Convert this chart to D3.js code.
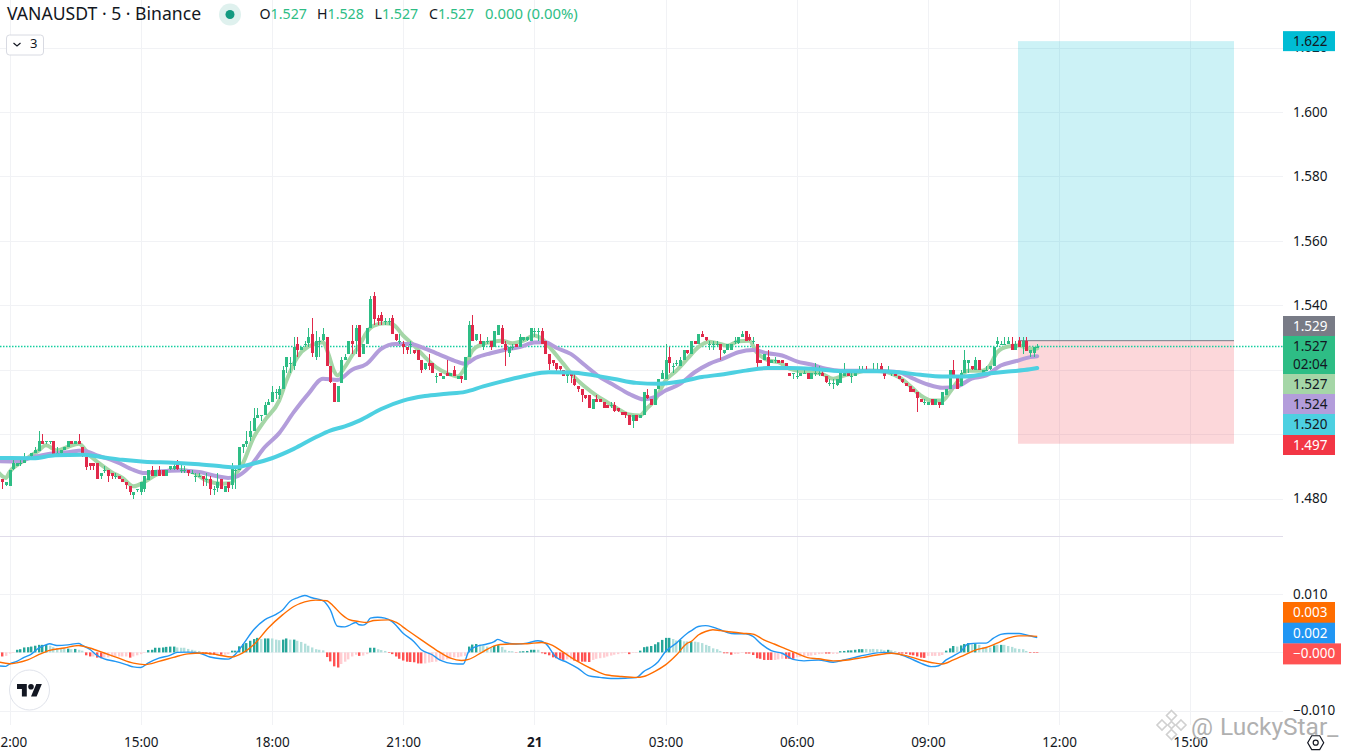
<!DOCTYPE html>
<html>
<head>
<meta charset="utf-8">
<script src="https://cdn.jsdelivr.net/npm/d3@7"></script>
<style>
  html, body { margin: 0; padding: 0; background: #fff; overflow: hidden; }
  text { font-family: "Noto Sans", sans-serif; }
</style>
</head>
<body>
<div id="chart-container"></div>
<script>
// Bars are 5 minutes, index 0 = 12:00 of the 20th. First bar in the picture is -2.
const firstBar = -2;

// Prices in 0.001 steps, ten bars per row
const opens = [
  1486,1484,1484,1489,1490,1491,1491,1493,1493,1494,
  1495,1498,1498,1498,1498,1493,1494,1495,1496,1498,
  1497,1498,1496,1493,1491,1491,1491,1487,1489,1489,
  1488,1487,1487,1486,1485,1484,1481,1483,1482,1483,
  1486,1489,1487,1489,1489,1487,1489,1489,1491,1489,
  1489,1489,1488,1487,1487,1487,1486,1486,1483,1483,
  1486,1482,1485,1484,1489,1489,1496,1497,1499,1501,
  1505,1506,1506,1509,1510,1513,1512,1514,1521,1522,
  1521,1528,1526,1528,1528,1531,1524,1529,1529,1530,
  1521,1516,1510,1516,1523,1525,1529,1529,1534,1525,
  1528,1533,1543,1536,1537,1535,1535,1536,1531,1529,
  1528,1527,1528,1526,1526,1523,1520,1522,1522,1518,
  1519,1517,1519,1518,1520,1517,1518,1517,1524,1534,
  1529,1529,1527,1529,1529,1527,1531,1533,1528,1525,
  1527,1528,1527,1529,1529,1529,1532,1532,1532,1529,
  1525,1523,1522,1521,1520,1518,1519,1517,1515,1514,
  1512,1512,1508,1511,1511,1510,1509,1509,1509,1508,
  1507,1507,1506,1504,1506,1505,1506,1512,1511,1509,
  1514,1517,1517,1524,1521,1522,1521,1523,1526,1525,
  1529,1528,1531,1530,1528,1528,1528,1528,1525,1526,
  1526,1529,1528,1530,1532,1530,1529,1528,1523,1523,
  1524,1522,1523,1523,1523,1522,1519,1519,1518,1518,
  1519,1519,1517,1519,1519,1519,1518,1516,1516,1515,
  1516,1518,1519,1518,1518,1519,1520,1520,1519,1520,
  1520,1521,1519,1519,1519,1519,1518,1517,1516,1515,
  1514,1513,1511,1510,1509,1511,1509,1510,1509,1512,
  1514,1520,1518,1515,1519,1522,1521,1520,1523,1519,
  1520,1520,1521,1528,1528,1528,1528,1528,1526,1529,
  1527,1529,1525,1525,1527
];
const closes = [
  1485,1485,1489,1491,1491,1491,1493,1493,1494,1495,
  1498,1497,1498,1498,1494,1494,1495,1496,1498,1497,
  1498,1497,1494,1490,1490,1490,1486,1488,1489,1487,
  1487,1487,1486,1485,1484,1482,1482,1483,1485,1487,
  1489,1487,1489,1487,1487,1489,1490,1490,1489,1489,
  1489,1488,1488,1487,1487,1486,1486,1483,1483,1485,
  1483,1484,1483,1490,1489,1496,1497,1498,1501,1505,
  1506,1506,1509,1510,1513,1513,1514,1520,1524,1522,
  1527,1526,1527,1528,1530,1525,1529,1529,1531,1521,
  1516,1510,1515,1523,1524,1529,1528,1533,1524,1528,
  1533,1542,1536,1535,1535,1535,1535,1531,1529,1529,
  1527,1526,1528,1525,1523,1520,1522,1521,1519,1518,
  1518,1518,1518,1519,1518,1518,1517,1524,1534,1529,
  1531,1528,1529,1529,1527,1532,1534,1528,1526,1527,
  1527,1527,1530,1530,1530,1533,1532,1532,1528,1525,
  1522,1522,1520,1520,1518,1519,1518,1515,1514,1512,
  1511,1508,1511,1510,1510,1508,1508,1509,1507,1507,
  1506,1506,1503,1506,1504,1506,1513,1511,1509,1514,
  1517,1519,1523,1522,1521,1522,1523,1526,1525,1529,
  1528,1531,1530,1529,1528,1528,1528,1526,1526,1528,
  1528,1529,1530,1531,1529,1529,1529,1522,1522,1525,
  1521,1523,1523,1522,1522,1520,1518,1519,1518,1519,
  1519,1517,1519,1519,1519,1518,1516,1516,1516,1517,
  1519,1519,1518,1518,1519,1520,1520,1519,1520,1520,
  1520,1519,1518,1520,1519,1518,1517,1516,1515,1513,
  1513,1511,1510,1510,1510,1509,1511,1509,1513,1514,
  1520,1518,1514,1519,1523,1523,1520,1523,1520,1520,
  1520,1521,1527,1529,1528,1528,1529,1526,1528,1527,
  1529,1526,1526,1527,1527
];
const highs = [
  1486,1485,1489,1492,1491,1492,1494,1493,1494,1496,
  1501,1500,1498,1498,1498,1496,1495,1496,1498,1498,
  1498,1500,1496,1493,1491,1491,1491,1488,1490,1489,
  1488,1488,1487,1486,1485,1484,1482,1483,1485,1487,
  1489,1490,1489,1490,1489,1489,1490,1491,1492,1491,
  1490,1489,1489,1488,1488,1487,1488,1487,1484,1488,
  1486,1484,1485,1491,1490,1496,1497,1501,1504,1508,
  1508,1506,1510,1511,1515,1514,1515,1521,1524,1524,
  1530,1530,1527,1529,1533,1536,1532,1530,1533,1530,
  1521,1516,1515,1524,1525,1529,1534,1534,1534,1528,
  1533,1543,1544,1537,1538,1536,1536,1537,1531,1531,
  1529,1527,1529,1526,1526,1523,1522,1525,1522,1519,
  1519,1518,1523,1519,1521,1518,1518,1524,1535,1537,
  1531,1531,1529,1530,1529,1532,1534,1534,1529,1527,
  1528,1528,1531,1530,1530,1533,1533,1533,1533,1529,
  1525,1523,1522,1521,1520,1519,1519,1519,1515,1514,
  1512,1512,1511,1512,1511,1510,1509,1510,1510,1508,
  1507,1507,1506,1506,1506,1506,1513,1514,1511,1514,
  1517,1520,1528,1527,1522,1523,1524,1526,1526,1529,
  1529,1531,1532,1530,1529,1529,1529,1528,1526,1528,
  1528,1530,1530,1532,1532,1531,1530,1528,1523,1525,
  1526,1523,1524,1523,1523,1522,1519,1519,1520,1519,
  1520,1519,1519,1522,1521,1520,1518,1517,1517,1517,
  1519,1522,1519,1519,1519,1521,1521,1521,1520,1522,
  1522,1522,1519,1521,1520,1519,1518,1517,1516,1515,
  1514,1513,1511,1511,1510,1511,1511,1510,1513,1514,
  1520,1523,1518,1520,1526,1523,1521,1524,1523,1520,
  1521,1521,1527,1530,1529,1530,1530,1530,1529,1530,
  1530,1530,1526,1527,1528
];
const lows = [
  1483,1484,1484,1489,1490,1490,1491,1492,1493,1494,
  1495,1497,1497,1497,1493,1493,1493,1495,1496,1497,
  1497,1497,1493,1489,1489,1489,1486,1486,1488,1485,
  1486,1486,1486,1485,1483,1481,1480,1482,1481,1482,
  1486,1487,1487,1487,1487,1487,1489,1489,1489,1488,
  1488,1487,1488,1485,1487,1484,1484,1481,1481,1482,
  1483,1482,1482,1483,1483,1489,1494,1496,1498,1501,
  1505,1504,1506,1509,1510,1511,1511,1514,1519,1519,
  1520,1524,1526,1527,1527,1524,1523,1524,1529,1521,
  1516,1510,1510,1516,1523,1525,1525,1525,1524,1525,
  1528,1533,1534,1534,1534,1534,1534,1531,1529,1528,
  1525,1525,1525,1525,1523,1519,1520,1520,1519,1516,
  1518,1517,1518,1518,1518,1517,1516,1517,1524,1529,
  1529,1528,1526,1528,1526,1527,1531,1528,1521,1524,
  1526,1527,1527,1529,1529,1529,1530,1529,1528,1525,
  1520,1521,1519,1519,1518,1516,1516,1515,1513,1510,
  1511,1508,1508,1510,1510,1508,1508,1508,1507,1507,
  1506,1505,1503,1502,1504,1505,1506,1511,1509,1509,
  1514,1517,1517,1519,1519,1521,1521,1523,1525,1525,
  1528,1528,1530,1529,1526,1526,1527,1523,1525,1526,
  1526,1528,1528,1530,1529,1529,1528,1520,1522,1523,
  1521,1522,1522,1522,1522,1520,1518,1517,1517,1518,
  1519,1517,1517,1518,1518,1518,1516,1515,1514,1515,
  1516,1518,1518,1516,1518,1519,1519,1519,1519,1519,
  1519,1519,1517,1519,1518,1518,1517,1516,1515,1513,
  1513,1507,1510,1509,1509,1509,1509,1508,1509,1512,
  1514,1518,1514,1515,1519,1519,1520,1520,1520,1519,
  1520,1520,1521,1527,1528,1528,1528,1526,1526,1527,
  1525,1526,1524,1524,1527
];

// Moving averages, [bar, price]
const maFast = [[-3,1488],[-1,1486.4],[0,1488.2],[4,1491.8],[8,1494.9],[10,1496.5],[13,1494.9],[16,1496],[19,1497],[22,1493.4],[25,1490.6],[28,1488.2],[31,1486.4],[34,1483.8],[37,1485.1],[40,1487.2],[43,1488.5],[46,1488.9],[50,1488.3],[54,1485.6],[58,1484.6],[61,1484.8],[62,1487.2],[64,1490.8],[67,1499],[70,1504.2],[74,1510.4],[76,1516.6],[79,1523.9],[82,1527.2],[84,1528],[86,1528.5],[87.5,1524.9],[89,1519.7],[90,1518.2],[92,1520.8],[94,1524.4],[96,1527.5],[98,1531.6],[100,1533.7],[103,1534.4],[105,1534.2],[108,1530.6],[111,1527.5],[114,1523.9],[117,1520.8],[120,1518.9],[123,1517.9],[125,1520.6],[127,1525.9],[130,1528],[132,1528.5],[135,1529],[138,1528.2],[141,1529],[144,1530.6],[146,1529.6],[149,1525.9],[152,1521.8],[155,1517.7],[158,1514.6],[161,1512],[164,1509.9],[167,1507.8],[170,1506.1],[173,1505.8],[175,1508.1],[177,1510.4],[180,1516.6],[183,1519.7],[186,1523.4],[189,1527],[192,1528.7],[195,1528],[197,1527.4],[200,1528.8],[203,1529],[205,1525.4],[208,1523],[211,1522.3],[214,1520.3],[217,1519.5],[220,1519.2],[223,1518.7],[226,1517.2],[229,1518.2],[232,1518.9],[235,1519.7],[238,1519.7],[241,1519.2],[244,1517.7],[247,1515.1],[250,1512],[253,1510.4],[256,1510.4],[258,1513],[260,1516.1],[263,1519.7],[267,1519.7],[269,1521.3],[271,1525.4],[274,1527.2],[277,1527.5],[280,1526.5],[282,1526.6]];
const maMid = [[-3,1491.6],[2,1491.5],[6.5,1492.9],[10,1493.7],[16,1494.4],[20,1494.9],[24,1493.4],[29.5,1491.3],[34,1488.9],[37,1487.9],[41,1488.4],[47,1488.7],[52,1488.2],[57,1486.9],[60,1486.4],[62,1486.7],[66,1490],[70,1495.9],[74,1500.3],[78,1506.8],[82,1512.5],[86,1517.2],[90,1516.8],[94,1520],[98,1521.8],[102,1526.5],[106,1528],[110,1528],[114,1526.5],[118,1524.7],[122,1522.8],[125,1521.8],[128,1523.7],[132,1525.1],[136,1526.2],[140,1527],[144,1528.4],[147,1528.5],[150,1526.8],[154,1524.9],[158,1521.3],[162,1517.7],[166,1515.1],[170,1512.5],[174,1510.8],[177,1511.5],[180,1513.5],[184,1515.6],[188,1519.2],[192,1521.8],[196,1523.5],[200,1525.4],[204,1526.1],[208,1525.1],[212,1524.4],[216,1522.6],[220,1521.6],[224,1520.3],[228,1519.7],[232,1519.7],[236,1519.7],[240,1519.5],[244,1519.2],[248,1517.2],[252,1515.4],[256,1514.4],[260,1514.8],[264,1517.2],[268,1518.2],[272,1521.3],[276,1522.6],[280,1523.9],[282,1524.2]];
const maSlow = [[-3,1492.6],[6.5,1492.5],[12.5,1493.4],[20,1493.6],[25,1492.9],[31,1492],[37,1491.4],[45,1491.1],[52,1490.6],[58,1490],[62,1489.7],[66,1490.6],[72,1492.5],[78,1495.4],[84,1499],[88,1501.1],[92,1502.4],[96,1504.2],[102,1507.8],[108,1510.4],[114,1511.8],[120,1512.5],[125,1513.1],[130,1514.8],[136,1516.6],[142,1518.2],[148,1519.2],[154,1519.1],[160,1518.3],[166,1517.1],[172,1515.9],[178,1515.6],[184,1516.3],[190,1517.7],[196,1518.6],[202,1519.7],[208,1520.5],[214,1520.5],[220,1520.3],[226,1519.7],[232,1519.5],[238,1519.5],[244,1519.2],[250,1518.4],[256,1517.9],[262,1517.9],[268,1518.7],[274,1519.4],[280,1520.1],[282,1520.5]];

// MACD pane, in 0.001 units
const macdHist = [
  -.7,-.6,-.2,-.1,.45,.55,.85,.9,1,1.15,
  1.3,1.3,1.3,1.15,.9,.75,.75,.75,.65,.55,
  .6,.45,.3,-.5,-.7,-.7,-.9,-1,-.9,-.85,
  -.7,-.7,-.7,-.7,-.7,-.9,-.7,-.5,-.3,-.1,
  .4,.45,.8,.8,.85,.95,1,1,.85,.8,
  .8,.6,.45,.3,.25,-.2,-.3,-.35,-.4,-.5,
  -.4,-.4,-.3,.3,.3,1.05,1.45,1.6,2,2.3,
  2.5,2.3,2.4,2.4,2.4,2.2,2.1,2.2,2.4,2.2,
  2.2,2,1.8,1.5,1.15,.85,.55,.45,.35,-.8,
  -1.55,-2.4,-2.6,-2,-1.6,-1.2,-.7,-.4,-.6,-.55,
  -.3,.8,.8,.55,.4,.25,-.1,-.3,-.7,-1.1,
  -1.4,-1.6,-1.65,-1.7,-1.9,-1.9,-1.9,-1.75,-1.65,-1.6,
  -1.45,-1.3,-1.2,-1,-.85,-.85,-.7,-.6,1,1.35,
  1.45,1.35,1.25,1,.85,1.1,1.25,.95,.45,.25,
  .2,-.05,.15,.2,.25,.45,.45,.45,-.15,-.3,
  -.5,-.85,-1,-1.1,-1.3,-1.2,-1.2,-1.4,-1.6,-1.6,
  -1.6,-1.65,-1.3,-1.1,-1,-.9,-.7,-.55,-.4,-.3,
  -.15,-.1,-.3,-.1,-.1,.3,.9,1,1.1,1.4,
  1.75,2.15,2.5,2.5,2.3,2.05,2.15,1.9,1.9,1.85,
  1.85,1.75,1.6,1.3,1.1,.7,.55,.25,-.15,-.15,
  -.4,-.25,-.25,-.1,-.2,-.2,-.45,-1,-1.1,-1.3,
  -1.3,-1.3,-1.3,-1.2,-1.1,-1.1,-1.1,-1.1,-.85,-.75,
  -.7,-.65,-.55,-.45,-.3,-.25,-.2,-.2,-.25,-.25,
  .2,.25,.35,.35,.45,.55,.55,.6,.55,.6,
  .55,.5,.35,.45,.35,.2,-.15,-.2,-.25,-.4,
  -.5,-.7,-.9,-.95,-.6,-.6,-.6,-.6,-.45,.3,
  .7,1.1,1,1.2,1.45,1.6,1.4,1.5,1.3,.85,
  .85,.85,1.2,1.3,1.3,1.3,1.1,.95,.7,.6,
  .55,.25,-.1,-.1,-.1
];
// 1 = solid colour (histogram growing), 0 = faded
const histGrowing = [
  1,0,0,0,1,1,1,1,1,1,
  1,1,1,0,0,0,0,0,1,0,
  1,0,0,1,1,0,1,1,0,0,
  0,0,0,0,0,1,0,0,0,0,
  1,1,1,1,1,1,1,1,0,0,
  0,0,0,0,0,1,1,1,1,0,
  1,0,0,1,1,1,1,1,1,1,
  1,0,1,1,0,0,0,1,1,0,
  1,0,0,0,0,0,0,0,0,1,
  1,1,1,0,0,0,0,0,1,0,
  0,1,1,0,0,0,1,1,1,1,
  1,1,1,1,1,1,0,0,0,0,
  0,0,0,0,0,0,0,0,1,1,
  1,0,0,0,0,1,1,0,0,0,
  0,1,1,1,1,1,1,0,1,1,
  1,1,1,1,1,0,0,1,1,1,
  1,1,0,0,0,0,0,0,0,0,
  0,0,1,0,0,1,1,1,1,1,
  1,1,1,1,0,0,1,0,0,1,
  0,0,0,0,0,0,0,0,1,1,
  1,0,0,0,1,1,1,1,1,1,
  1,1,0,0,0,1,1,1,0,0,
  0,0,0,0,0,0,1,1,0,0,
  1,1,1,1,1,1,1,0,0,0,
  0,0,0,1,0,0,1,1,1,1,
  1,1,1,1,0,0,0,0,0,1,
  1,1,0,1,1,1,0,1,0,0,
  0,0,1,0,1,0,0,0,0,0,
  0,0,1,1,1
];
const macdLine = [[-3,-2.3],[-1,-2.4],[0,-2],[2,-1.55],[4,-.85],[6,-.3],[8,.75],[10,1.3],[11,1.5],[13,1.2],[16,1.3],[19,1.55],[20,1.2],[22,.55],[24,-.5],[26,-1.1],[29,-1.55],[32,-2.1],[34,-2.5],[36,-2.6],[38,-1.85],[41,-1],[44,-.5],[46,0],[49,.05],[52,-.1],[55,-.8],[58,-1.1],[60,-1.15],[62,-.3],[64,1.3],[67,3.9],[70,5.6],[73,6.5],[75,7.35],[77,8.8],[79,9.4],[81,9.8],[83,9.4],[86,8.9],[88,7.35],[90,4.5],[92,4.4],[93,4.6],[95,5.15],[96,4.75],[97,4.7],[98,5],[99,5.9],[101,6.05],[103,5.9],[105,5.3],[108,3.3],[111,1.85],[113,.45],[116,-.4],[118,-1.3],[120,-1.75],[123,-2],[124.5,-2],[126,.15],[128,1],[131,1.45],[133,1.85],[134,2.25],[136,1.7],[139,1.45],[142,1.6],[145,2],[147,1.6],[150,-.85],[153,-1.7],[156,-2.75],[159,-4.05],[162,-4.3],[165,-4.5],[169,-4.45],[172,-4.35],[174,-3.3],[176,-2.6],[178,-1.6],[180,.15],[183,1.6],[186,3.3],[187,3.7],[189,4.45],[191,4.6],[193,4.35],[195,3.9],[197,3.4],[199,3.2],[202,3.2],[204,2.75],[206,1.6],[209,.3],[212,-.15],[215,-1.2],[218,-1.45],[222,-1.3],[226,-1.7],[229,-1.3],[232,-.85],[236,-.3],[240,0],[244,-.3],[247,-1],[250,-1.85],[253,-2.45],[255,-2.3],[257,-1.3],[259,-.6],[261,.15],[263,1.45],[266,1.6],[268,1.6],[270,2.45],[272,3.1],[274,3.25],[277,3.25],[279,3],[282,2.55]];
const signalLine = [[-3,-1.65],[0,-1.95],[2,-1.8],[5,-1.3],[8,-.4],[11,.35],[15,.75],[19,1.2],[22,.75],[26,-.1],[30,-1],[34,-1.85],[37,-2.1],[41,-1.55],[45,-.85],[49,-.25],[53,-.1],[57,-.4],[61,-.8],[64,-.1],[67,1.3],[71,4.2],[75,6.5],[78,7.9],[81,8.7],[84,9],[87,8.9],[89,7.9],[91,6.6],[93,5.7],[96,5.3],[98,5.15],[100,5.5],[104,5.6],[106,5.2],[109,3.9],[113,2.15],[117,.45],[121,-1],[124,-1.4],[126,-1.2],[130,.15],[134,1.3],[138,1.45],[142,1.5],[146,1.7],[149,1.2],[152,0],[156,-1.6],[160,-2.9],[164,-3.9],[168,-4.15],[172,-4.3],[174,-4.15],[177,-3.3],[180,-2.15],[183,-.45],[186,1.6],[187,1.85],[189,3],[191,3.6],[193,3.9],[195,3.75],[198,3.5],[201,3.3],[204,3.15],[207,2.15],[210,1.4],[213,.6],[216,-.15],[219,-.9],[222,-1.1],[226,-1.45],[230,-1.3],[234,-.9],[238,-.45],[242,-.15],[246,-.55],[250,-1.3],[254,-1.85],[256,-2],[259,-1.3],[262,-.45],[265,.4],[268,.85],[271,1.6],[274,2.45],[277,2.85],[280,2.85],[282,2.75]];

// Axes
const priceTicks = [1620, 1600, 1580, 1560, 1540, 1520, 1500, 1480];
const priceLabelled = [1620, 1600, 1580, 1560, 1540, 1480];
const macdTicks = [10, 0, -10];
const macdLabelled = [10, -10];
const timeTicks = [0, 36, 72, 108, 144, 180, 216, 252, 288, 324];
const timeLabels = ["12:00", "15:00", "18:00", "21:00", "21", "03:00", "06:00", "09:00", "12:00", "15:00"];

// Position tool
const targetPrice = 1622;
const entryPrice = 1529;
const stopPrice = 1497;
const lastPrice = 1527;

// Price scale tags under the entry level
const tagValues = ["1.529", "1.527", "1.527", "1.524", "1.520", "1.497"];
const tagFills = ["#787b86", "#2ebd85", "#a5d6a7", "#b39ddb", "#4dd0e1", "#f23645"];
const tagInk = ["#fff", "#131722", "#131722", "#131722", "#131722", "#fff"];
const macdTagValues = ["0.003", "0.002", "\u22120.000"];
const macdTagFills = ["#ff6d00", "#2196f3", "#ff5252"];

const legendParts = [["O", "1.527"], ["H", "1.528"], ["L", "1.527"], ["C", "1.527"]];
const legendX = [259.5, 317, 374.5, 429];

const width = 1345, height = 751;
const plotRight = 1283;
const UP = "#2ebd85", DOWN = "#e0294a", GRID = "#f1f2f5", INK = "#131722";

const svg = d3.select("#chart-container").append("svg")
    .attr("width", width)
    .attr("height", height)
    .style("display", "block");

// 1. Scales
const x = d3.scaleLinear().domain([0, 36]).range([9.5, 140.7]);
const y = d3.scaleLinear().domain([1480, 1600]).range([498.5, 112]);
const yMacd = d3.scaleLinear().domain([-10, 10]).range([710.5, 594.3]);

// 2. Grid
const grid = svg.append("g").attr("stroke", GRID).attr("stroke-width", 1);
grid.selectAll(".v").data(timeTicks).join("line")
    .attr("x1", d => Math.round(x(d)) + .5).attr("x2", d => Math.round(x(d)) + .5)
    .attr("y1", 0).attr("y2", 725);
grid.selectAll(".h").data(priceTicks).join("line")
    .attr("x1", 0).attr("x2", plotRight)
    .attr("y1", d => Math.round(y(d)) + .5).attr("y2", d => Math.round(y(d)) + .5);
grid.selectAll(".m").data(macdTicks).join("line")
    .attr("x1", 0).attr("x2", plotRight)
    .attr("y1", d => Math.round(yMacd(d)) + .5).attr("y2", d => Math.round(yMacd(d)) + .5);

// pane divider
svg.append("line").attr("x1", 0).attr("x2", plotRight)
    .attr("y1", 536.5).attr("y2", 536.5)
    .attr("stroke", "#e0dcea");

// 3. Position tool
const toolLeft = 1018, toolRight = 1234;
svg.append("rect").attr("x", toolLeft).attr("width", toolRight - toolLeft)
    .attr("y", y(targetPrice)).attr("height", y(entryPrice) - y(targetPrice))
    .attr("fill", "#00bcd4").attr("opacity", .2);
svg.append("rect").attr("x", toolLeft).attr("width", toolRight - toolLeft)
    .attr("y", y(entryPrice)).attr("height", y(stopPrice) - y(entryPrice))
    .attr("fill", "#f23645").attr("opacity", .2);
svg.append("line").attr("x1", toolLeft).attr("x2", toolRight)
    .attr("y1", y(entryPrice)).attr("y2", y(entryPrice))
    .attr("stroke", "#787b86").attr("stroke-width", 1);

// last price line
svg.append("line").attr("x1", 0).attr("x2", plotRight)
    .attr("y1", Math.round(y(lastPrice)) - .5).attr("y2", Math.round(y(lastPrice)) - .5)
    .attr("stroke", "#14cfa0").attr("stroke-width", 1.5).attr("stroke-dasharray", "1.5 1.5");

// 4. Moving averages, candles go over the first two
const maPath = d3.line().x(d => x(d[0])).y(d => y(d[1])).curve(d3.curveMonotoneX);
svg.append("defs").append("clipPath").attr("id", "plot")
    .append("rect").attr("width", plotRight).attr("height", 536);

const priceLayer = svg.append("g").attr("clip-path", "url(#plot)");
priceLayer.append("path").attr("d", maPath(maFast)).attr("fill", "none")
    .attr("stroke", "#a5d6a7").attr("stroke-width", 4).attr("stroke-linecap", "round");
priceLayer.append("path").attr("d", maPath(maMid)).attr("fill", "none")
    .attr("stroke", "#b39ddb").attr("stroke-width", 4).attr("stroke-linecap", "round");

// 5. Candles
const bars = opens.map((o, i) => ({
    bar: firstBar + i, open: o, high: highs[i], low: lows[i], close: closes[i],
    hist: macdHist[i], growing: histGrowing[i]
}));

const candle = priceLayer.append("g").selectAll("g").data(bars).join("g")
    .attr("fill", d => d.close >= d.open ? UP : DOWN);
candle.append("rect")
    .attr("x", d => Math.round(x(d.bar)))
    .attr("width", 1)
    .attr("y", d => Math.round(y(d.high)))
    .attr("height", d => Math.max(1, Math.round(y(d.low)) - Math.round(y(d.high))));
candle.append("rect")
    .attr("x", d => Math.round(x(d.bar)) - 1)
    .attr("width", 3)
    .attr("y", d => Math.round(Math.min(y(d.open), y(d.close))))
    .attr("height", d => Math.max(1, Math.round(Math.abs(y(d.open) - y(d.close)))));

priceLayer.append("path").attr("d", maPath(maSlow)).attr("fill", "none")
    .attr("stroke", "#4dd0e1").attr("stroke-width", 4).attr("stroke-linecap", "round");

// 6. MACD pane
const histColor = d => d.hist >= 0
    ? (d.growing ? "#26a69a" : "#b2dfdb")
    : (d.growing ? "#ff5252" : "#ffcdd2");
svg.append("g").selectAll("rect").data(bars).join("rect")
    .attr("x", d => Math.round(x(d.bar)) - 1)
    .attr("width", 2.4)
    .attr("y", d => Math.min(yMacd(d.hist), yMacd(0)))
    .attr("height", d => Math.abs(yMacd(d.hist) - yMacd(0)))
    .attr("fill", histColor);

const macdPath = d3.line().x(d => x(d[0])).y(d => yMacd(d[1])).curve(d3.curveMonotoneX);
svg.append("path").attr("d", macdPath(macdLine)).attr("fill", "none")
    .attr("stroke", "#2196f3").attr("stroke-width", 1.4);
svg.append("path").attr("d", macdPath(signalLine)).attr("fill", "none")
    .attr("stroke", "#ff6d00").attr("stroke-width", 1.4);

// 7. Axes
const axisFont = 13.5;
const priceAxis = d3.axisRight(y)
    .tickValues(priceLabelled)
    .tickSize(0).tickPadding(10)
    .tickFormat(d => (d / 1000).toFixed(3));
const macdAxis = d3.axisRight(yMacd)
    .tickValues(macdLabelled)
    .tickSize(0).tickPadding(10)
    .tickFormat(d => (d / 1000).toFixed(3).replace("-", "\u2212"));
const timeAxis = d3.axisBottom(x)
    .tickValues(timeTicks)
    .tickSize(0).tickPadding(0)
    .tickFormat((d, i) => timeLabels[i]);

[[priceAxis, `translate(${plotRight},0)`], [macdAxis, `translate(${plotRight},0)`], [timeAxis, "translate(0,737)"]]
    .forEach(([axis, tr]) => {
        const g = svg.append("g").attr("transform", tr).call(axis);
        g.select(".domain").remove();
        g.selectAll("text")
            .style("font-family", '"Noto Sans", sans-serif')
            .style("font-size", axisFont + "px")
            .attr("fill", INK);
    });
svg.selectAll(".tick text").filter(function () { return d3.select(this).text() === "21"; })
    .style("font-weight", "bold");

// 8. Price tags
function tag(top, h, fill, ink, lines, right) {
    const g = svg.append("g");
    g.append("rect").attr("x", plotRight).attr("y", top)
        .attr("width", (right || 1335) - plotRight).attr("height", h)
        .attr("fill", fill);
    lines.forEach((t, i) => {
        g.append("text").attr("x", plotRight + 10)
            .attr("y", top + 15 + i * 18)
            .attr("font-size", axisFont)
            .attr("fill", ink)
            .text(t);
    });
}
tag(y(targetPrice) - 10, 20, "#00bcd4", INK, ["1.622"]);

let tagTop = 316;
tagValues.forEach((v, i) => {
    const isLast = i === 1;
    const h = isLast ? 38 : (i === 4 ? 21 : 20);
    tag(tagTop, h, tagFills[i], tagInk[i], isLast ? [v, "02:04"] : [v]);
    tagTop += h;
});
let macdTop = 602;
macdTagValues.forEach((v, i) => {
    tag(macdTop, 21, macdTagFills[i], "#fff", [v], i === 2 ? 1341 : 1335);
    macdTop += 20.7;
});

// 9. Legend
svg.append("text").attr("x", 7).attr("y", 20)
    .attr("font-size", 17.6).attr("fill", INK)
    .text("VANAUSDT \u00b7 5 \u00b7 Binance");
svg.append("circle").attr("cx", 230).attr("cy", 14.5).attr("r", 11).attr("fill", "#dff1ee");
svg.append("circle").attr("cx", 230).attr("cy", 14.5).attr("r", 4.5).attr("fill", "#139a80");

legendParts.forEach(([k, v], i) => {
    const t = svg.append("text").attr("x", legendX[i]).attr("y", 19).attr("font-size", 14.2);
    t.append("tspan").attr("fill", INK).text(k);
    t.append("tspan").attr("fill", UP).text(v);
});
svg.append("text").attr("x", 485).attr("y", 19).attr("font-size", 14.9).attr("fill", UP)
    .text("0.000 (0.00%)");

// collapsed indicators button
svg.append("rect").attr("x", 6.5).attr("y", 35).attr("width", 37).attr("height", 20).attr("rx", 3)
    .attr("fill", "#fff").attr("stroke", "#d8dae2");
svg.append("path").attr("d", "M13.5 43l3.5 3 3.5-3").attr("fill", "none").attr("stroke", INK).attr("stroke-width", 1.2);
svg.append("text").attr("x", 30).attr("y", 48).attr("font-size", 13).attr("fill", INK).text("3");

// 10. TradingView mark
svg.append("circle").attr("cx", 29.5).attr("cy", 690).attr("r", 20)
    .attr("fill", "#fff").attr("stroke", "#e0e3eb").attr("stroke-width", 1);
const tv = svg.append("g").attr("transform", "translate(17,681.2) scale(.7)").attr("fill", "#131722");
tv.append("path").attr("d", "M14 22H7V11H0V4h14v18zM28 22h-8l7.5-18h8L28 22z");
tv.append("circle").attr("cx", 20).attr("cy", 8).attr("r", 4);

// 11. Watermark and settings icon
const mark = svg.append("g").attr("fill", "#fff").attr("fill-opacity", .7).attr("stroke", "#d0d0d0").attr("stroke-width", 1.6);
[[0, -9.5], [-9.5, 0], [9.5, 0], [0, 0], [0, 9.5]].forEach(([dx, dy]) => {
    const r = dx === 0 && dy === 0 ? 3.5 : 5;
    mark.append("path").attr("transform", `translate(${1171.5 + dx},${725 + dy})`)
        .attr("d", `M0 ${-r}L${r} 0L0 ${r}L${-r} 0Z`);
});
const wm = svg.append("g").attr("fill", "#b0b0b0")
    .style("font-family", "Roboto, sans-serif")
    .attr("font-size", 24.5);
wm.append("text").attr("x", 1191).attr("y", 735).style("font-family", "Roboto, sans-serif").text("@");
wm.append("text").attr("x", 1220).attr("y", 735).style("font-family", "Roboto, sans-serif").text("LuckyStar_");

const hexR = 8;
const hex = d3.range(6).map(i => {
    const a = Math.PI / 3 * i;
    return [1315.7 + hexR * Math.cos(a), 742.7 + hexR * Math.sin(a)];
});
svg.append("path").attr("d", d3.line()(hex) + "Z").attr("fill", "none").attr("stroke", INK).attr("stroke-width", 1.2);
svg.append("circle").attr("cx", 1315.7).attr("cy", 742.7).attr("r", 2.5).attr("fill", "none").attr("stroke", INK).attr("stroke-width", 1.2);
</script>
</body>
</html>
